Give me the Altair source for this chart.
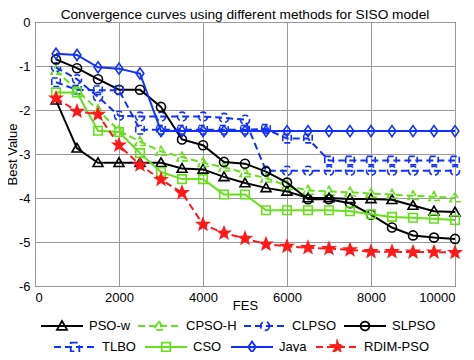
import math
import altair as alt
import pandas as pd

# ---------------- data ----------------
fes = [500, 1000, 1500, 2000, 2500, 3000, 3500, 4000, 4500, 5000,
       5500, 6000, 6500, 7000, 7500, 8000, 8500, 9000, 9500, 10000]

methods = ["PSO-w", "CPSO-H", "CLPSO", "SLPSO", "TLBO", "CSO", "Jaya", "RDIM-PSO"]

pso_w = [-1.78, -2.87, -3.2, -3.2, -3.2, -3.2, -3.33, -3.35, -3.52, -3.66,
         -3.77, -3.85, -4.0, -4.0, -4.02, -4.02, -4.04, -4.17, -4.3, -4.32]
cpso_h = [-1.1, -1.55, -2.0, -2.47, -2.72, -2.94, -3.07, -3.2, -3.3, -3.43,
          -3.55, -3.72, -3.83, -3.85, -3.87, -3.9, -3.92, -3.95, -3.97, -4.0]
clpso = [-1.03, -1.3, -1.7, -2.13, -2.15, -2.15, -2.15, -2.15, -2.18, -2.22,
         -3.38, -3.38, -3.38, -3.38, -3.38, -3.38, -3.38, -3.38, -3.38, -3.38]
slpso = [-0.85, -1.05, -1.3, -1.54, -1.54, -1.93, -2.67, -2.8, -3.18, -3.22,
         -3.4, -3.65, -4.03, -4.03, -4.12, -4.38, -4.67, -4.85, -4.9, -4.93]
tlbo = [-1.37, -1.54, -1.55, -1.55, -2.45, -2.45, -2.45, -2.45, -2.45, -2.45,
        -2.43, -2.65, -2.65, -3.15, -3.15, -3.15, -3.15, -3.15, -3.15, -3.15]
cso = [-1.6, -1.6, -2.47, -2.5, -2.98, -3.41, -3.57, -3.57, -3.92, -3.92,
       -4.28, -4.28, -4.28, -4.28, -4.3, -4.37, -4.43, -4.45, -4.47, -4.5]
jaya = [-0.72, -0.75, -1.03, -1.06, -1.17, -2.48, -2.48, -2.48, -2.48, -2.48,
        -2.48, -2.48, -2.48, -2.48, -2.48, -2.48, -2.48, -2.48, -2.48, -2.48]
rdim_pso = [-1.73, -2.03, -2.1, -2.8, -3.25, -3.58, -3.88, -4.6, -4.8, -4.92,
            -5.05, -5.1, -5.13, -5.15, -5.18, -5.22, -5.22, -5.23, -5.23, -5.24]

series = [pso_w, cpso_h, clpso, slpso, tlbo, cso, jaya, rdim_pso]
legend_row1 = methods[:4]
legend_row2 = methods[4:]

rows = []
for m, vals in zip(methods, series):
    for f, v in zip(fes, vals):
        rows.append({"method": m, "fes": f, "value": v})
df = pd.DataFrame(rows)

# ---------------- styles ----------------
BLACK, GREEN, BLUE, RED = "#000000", "#66e01a", "#1030ff", "#ff1a1a"
DASH = [7, 4]
MDASH = [6, 3]
FONT = "Liberation Sans"


def poly(pts, s=1.0):
    return "M" + "L".join(f"{x * s:.3f},{y * s:.3f}" for x, y in pts) + "Z"


def circ(r):
    return (f"M{r:.3f},0A{r:.3f},{r:.3f},0,1,1,{-r:.3f},0"
            f"A{r:.3f},{r:.3f},0,1,1,{r:.3f},0Z")


TRI = [(0, -1), (1, 0.75), (-1, 0.75)]
SQU = [(-0.85, -0.85), (0.85, -0.85), (0.85, 0.85), (-0.85, 0.85)]
DIA = [(0, -1), (0.7, 0), (0, 1), (-0.7, 0)]
STAR = [((1.0 if i % 2 == 0 else 0.42) * math.cos(-math.pi / 2 + i * math.pi / 5),
         (1.0 if i % 2 == 0 else 0.42) * math.sin(-math.pi / 2 + i * math.pi / 5))
        for i in range(10)]


def marker(kind, s=1.0):
    if kind == "circle":
        return circ(s)
    return poly({"tri": TRI, "square": SQU, "diamond": DIA, "star": STAR}[kind], s)


# method -> (colour, dashed, marker kind, plot marker size, legend marker scale)
style = {
    "PSO-w": (BLACK, False, "tri", 100, 0.24),
    "CPSO-H": (GREEN, True, "tri", 100, 0.24),
    "CLPSO": (BLUE, True, "circle", 81, 0.21),
    "SLPSO": (BLACK, False, "circle", 81, 0.21),
    "TLBO": (BLUE, True, "square", 100, 0.24),
    "CSO": (GREEN, False, "square", 100, 0.24),
    "Jaya": (BLUE, False, "diamond", 121, 0.26),
    "RDIM-PSO": (RED, True, "star", 150, 0.3),
}

x_enc = alt.X("fes:Q", scale=alt.Scale(domain=[0, 10000], nice=False),
              axis=alt.Axis(title="FES", values=[0, 2000, 4000, 6000, 8000, 10000],
                            labelExpr="toString(datum.value)", titleY=13,
                            titleBaseline="top"))
y_enc = alt.Y("value:Q", scale=alt.Scale(domain=[-6, 0], nice=False),
              axis=alt.Axis(title="Best Value", values=[-6, -5, -4, -3, -2, -1, 0],
                            labelExpr="toString(datum.value)", titlePadding=-1))

layers = []
for m in methods:
    col, dashed, kind, msize, _ = style[m]
    base = alt.Chart(df).transform_filter(alt.datum.method == m)
    line_kw = dict(color=col, strokeWidth=2)
    if dashed:
        line_kw["strokeDash"] = DASH
    layers.append(base.mark_line(**line_kw).encode(x=x_enc, y=y_enc))
    pt_kw = dict(shape=marker(kind), size=msize, stroke=col, strokeWidth=1.6,
                 opacity=1, filled=(kind == "star"),
                 fill=(col if kind == "star" else "transparent"))
    if dashed and kind != "star":
        pt_kw["strokeDash"] = MDASH
    layers.append(base.mark_point(**pt_kw).encode(x=x_enc, y=y_enc))


def legend_layer(names, lx, ly, cpad):
    paths = ["M-1,0L1,0" + marker(style[m][2], style[m][4]) for m in names]
    strokes = [style[m][0] for m in names]
    fills = [style[m][0] if style[m][2] == "star" else "transparent" for m in names]
    dashes = [DASH if style[m][1] else [1, 0] for m in names]
    leg = alt.Legend(title=None, orient="none", legendX=lx, legendY=ly, columns=4,
                     direction="horizontal", gridAlign="none", symbolSize=1764,
                     clipHeight=18, symbolStrokeWidth=1.8, labelFontSize=13,
                     labelFont=FONT, labelOffset=5, columnPadding=cpad,
                     padding=0, labelColor="#000000")
    return alt.Chart(df).transform_filter("false").mark_point(
        filled=False, size=1764, opacity=1, strokeWidth=1.8
    ).encode(
        shape=alt.Shape("method:N", scale=alt.Scale(domain=names, range=paths), legend=leg),
        stroke=alt.Stroke("method:N", scale=alt.Scale(domain=names, range=strokes), legend=leg),
        fill=alt.Fill("method:N", scale=alt.Scale(domain=names, range=fills), legend=leg),
        strokeDash=alt.StrokeDash("method:N", scale=alt.Scale(domain=names, range=dashes), legend=leg),
    )


chart = alt.layer(
    *layers, legend_layer(legend_row1, 5, 295, 6), legend_layer(legend_row2, 18, 316, 8)
).resolve_scale(
    shape="independent", stroke="independent", fill="independent", strokeDash="independent"
).properties(
    width=420, height=264,
    autosize=alt.AutoSizeParams(type="none"),
    padding={"left": 27, "top": 14, "right": 11, "bottom": 66},
    title=alt.Title("Convergence curves using different methods for SISO model",
                    fontSize=13.7, font=FONT, fontWeight="normal", offset=-6,
                    color="#000000"),
).configure_view(
    stroke="#000000", strokeWidth=1
).configure_axis(
    domain=False, ticks=False, tickSize=0, grid=True, gridColor="#9a9a9a",
    gridWidth=1, gridOpacity=1, labelFont=FONT, labelFontSize=13,
    labelColor="#000000", titleFont=FONT, titleFontSize=13,
    titleFontWeight="normal", titleColor="#000000", labelPadding=5
)

chart.save("out.html", embed_options={"renderer": "svg", "actions": False})
